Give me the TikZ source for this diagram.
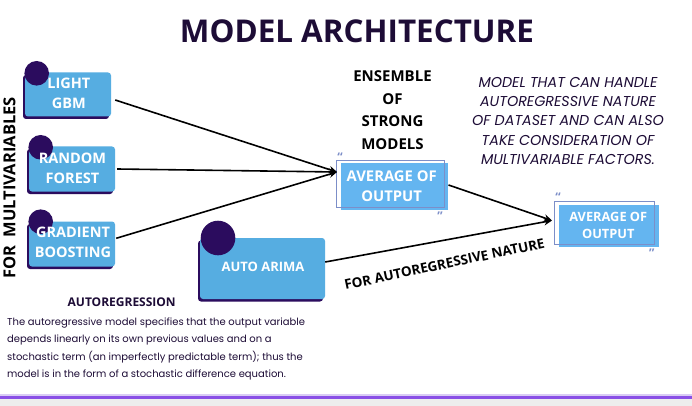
\documentclass[tikz,border=0pt]{standalone}
\usepackage{fontspec}
\setmainfont{Open Sans}
\newfontfamily\bodyfont{Poppins}
\usetikzlibrary{arrows.meta,shadows}

\definecolor{modelblue}{HTML}{56ADE1}
\definecolor{avgblue}{HTML}{64B5F0}
\definecolor{badgepurple}{HTML}{2B0C5E}
\definecolor{titlenavy}{HTML}{1D0C36}
\definecolor{frameblue}{HTML}{7C8EC8}
\definecolor{footpurple}{HTML}{8A50E6}
\definecolor{footlilac}{HTML}{D9CCF5}
\definecolor{footgray}{HTML}{EDEDED}

\tikzset{
  model/.style={fill=modelblue, rounded corners=3pt,
    general shadow={fill=badgepurple, shadow xshift=-2pt, shadow yshift=-2.5pt}},
  badge/.style={circle, fill=badgepurple, inner sep=0pt, minimum size=#1},
  badge/.default=24.6pt,
  modeltext/.style={text=white, align=center, font=\bfseries\fontsize{14.5}{20}\selectfont},
  average/.style={fill=avgblue, inner sep=0pt},
  frame/.style={draw=frameblue, line width=0.6pt},
  quote/.style={text=frameblue, font=\bfseries\fontsize{12}{12}\selectfont, inner sep=0pt},
  link/.style={-{Stealth[length=8pt,width=7pt]}, line width=1.6pt},
}

\begin{document}
\begin{tikzpicture}[x=1pt,y=-1pt]
\useasboundingbox[fill=white] (0,0) rectangle (692,406);

% footer band
\fill[footgray] (0,399) rectangle (692,406);
\fill[footlilac] (0,394) rectangle (692,396);
\fill[footpurple] (0,396) rectangle (692,399);

\node[text=titlenavy, font=\bfseries\fontsize{31.4}{31.4}\selectfont] (title) at (357,31) {MODEL ARCHITECTURE};

\node[rotate=90, font=\bfseries\fontsize{16.5}{16.5}\selectfont] (multi) at (9.5,188) {FOR\ \ MULTIVARIABLES};

% multivariable models
\node[model, minimum width=86pt, minimum height=44pt] (gbm) at (68,94.5) {};
\node[badge] (gbmdot) at (36.7,73.3) {};
\node[modeltext] (gbmtext) at (68.8,93.8) {LIGHT\\GBM};

\node[model, minimum width=86pt, minimum height=45pt] (forest) at (72,169) {};
\node[badge] (forestdot) at (40.7,147.3) {};
\node[modeltext] (foresttext) at (72.5,168) {RANDOM\\FOREST};

\node[model, minimum width=86pt, minimum height=45pt] (boost) at (72,244) {};
\node[badge] (boostdot) at (40.7,221.7) {};
\node[modeltext] (boosttext) at (73,242.2) {GRADIENT\\BOOSTING};

% autoregressive model
\node[model, minimum width=125pt, minimum height=61pt] (arima) at (262.5,268.5) {};
\node[badge=34.6pt] (arimadot) at (218,238) {};
\node[modeltext, font=\bfseries\fontsize{13}{13}\selectfont] (arimatext) at (263,267) {AUTO ARIMA};

% averaging
\node[font=\bfseries\fontsize{15}{22.5}\selectfont, align=center] (ensemble) at (392.5,110.3) {ENSEMBLE\\OF\\STRONG\\MODELS};
\node[average, minimum width=107.6pt, minimum height=46.7pt] (avg1) at (394.5,186.7) {};
\draw[frame] ([shift={(-4,-2.6)}]avg1.north west) rectangle ([shift={(-4,-2.6)}]avg1.south east);
\node[modeltext, font=\bfseries\fontsize{14.8}{20}\selectfont] (avg1text) at (391.7,186) {AVERAGE OF\\OUTPUT};
\node[quote] (avg1open) at (340,157.5) {“};
\node[quote] (avg1close) at (440,216) {”};

\node[font=\bodyfont\itshape\fontsize{14.3}{19.1}\selectfont, text=titlenavy, align=center] (note) at (568,121) {MODEL THAT CAN HANDLE\\AUTOREGRESSIVE NATURE\\OF DATASET AND CAN ALSO\\TAKE CONSIDERATION OF\\MULTIVARIABLE FACTORS.};

\node[average, minimum width=100pt, minimum height=42.3pt] (avg2) at (609,226.2) {};
\draw[frame] ([shift={(-4.7,-3.4)}]avg2.north west) rectangle ([shift={(-4.7,-3.4)}]avg2.south east);
\node[modeltext, font=\bfseries\fontsize{12.8}{17.3}\selectfont] (avg2text) at (608.3,225.4) {AVERAGE OF\\OUTPUT};
\node[quote] (avg2open) at (558,197.5) {“};
\node[quote] (avg2close) at (651.7,253.5) {”};

% connectors
\coordinate (meet1) at (337,172);
\coordinate (meet2) at (552,220.5);
\draw[link] ([xshift=4pt,yshift=-5.5pt]gbm.east) -- (meet1);
\draw[link] ([xshift=2pt]forest.east) -- (meet1);
\draw[link] ([xshift=1pt,yshift=5.7pt]boost.east) -- (meet1);
\draw[link] ([yshift=1.7pt]avg1.east) -- (meet2);
\draw[link] ([yshift=6.5pt]arima.east) -- (meet2);

\node[rotate=11.9, font=\bfseries\fontsize{13.5}{13.5}\selectfont] (arlabel) at (444.5,264) {FOR AUTOREGRESSIVE NATURE};

% explanation
\node[font=\bfseries\fontsize{12}{12}\selectfont, text=titlenavy] (arhead) at (121.7,302.7) {AUTOREGRESSION};
\node[anchor=north west, align=left, inner sep=0pt, text=titlenavy, font=\bodyfont\fontsize{10}{17.6}\selectfont] (ardesc) at (7,317.3) {The autoregressive model specifies that the output variable\\depends linearly on its own previous values and on a\\stochastic term (an imperfectly predictable term); thus the\\model is in the form of a stochastic difference equation.};
\end{tikzpicture}
\end{document}
